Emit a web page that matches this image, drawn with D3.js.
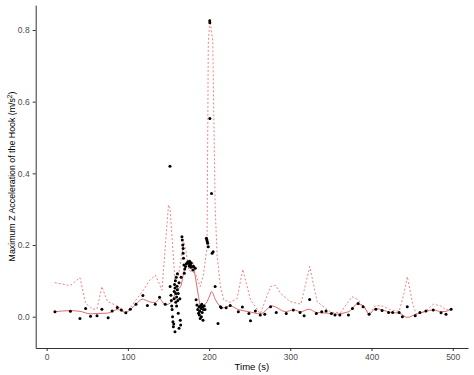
<!DOCTYPE html>
<html>
<head>
<meta charset="utf-8">
<script src="https://cdn.jsdelivr.net/npm/d3@7"></script>
<style>
  body { margin: 0; background: #fff; }
  svg { font-family: "Liberation Sans", Arial, sans-serif; display: block; }
  .tick text { fill: #4d4d4d; font-size: 8.5px; }
</style>
</head>
<body>
<svg id="chart" width="474" height="375"></svg>
<script>
// observed points
const pointTime = [10.2, 29.2, 41, 48, 54, 62, 68, 75.7, 80.6, 87, 92, 97.5, 103, 110, 118.5, 124, 133.7, 139, 146, 151.8,
  152, 153, 153.5, 154, 154.5, 155, 155.5, 156, 156.5, 157, 157, 157.5, 158, 158, 158.5, 159, 159, 159.5, 160, 160, 160.5,
  161, 161, 161.5, 162, 162, 163, 163, 164, 164.5, 165, 165.5, 166.6, 167, 167.5, 168, 168, 168.5, 169, 169.5, 170, 171,
  172, 173, 174, 175, 175.5, 176, 177, 177.5, 178, 179, 180, 181, 183, 184, 185, 186, 187, 187.5, 188, 188.5, 189, 189.5,
  190, 190.5, 191, 191.5, 192, 192.5, 193, 194, 195, 196.7, 197.2, 197.7, 198.2, 199, 200.8, 200.9, 201, 203, 205, 203.7,
  207.4, 211, 214, 215, 221, 226, 236, 241, 249, 251, 257, 263, 268.6, 275.7, 282.7, 295, 303.7, 312, 317, 323.8, 332,
  338.7, 344, 350.6, 355, 361, 371.6, 376.5, 383.5, 389.6, 397, 405.3, 413, 421, 426, 434, 438, 444, 453.8, 459.6, 467,
  476, 485.6, 491.7, 498];
const pointValue = [0.014, 0.015, -0.005, 0.023, 0.001, 0.003, 0.021, -0.003, 0.016, 0.026, 0.019, 0.011, 0.021, 0.035, 0.059, 0.031, 0.035, 0.054, 0.035, 0.42,
  0.084, 0.06, 0.045, 0.03, 0.02, 0.0, -0.014, -0.028, -0.02, 0.07, 0.05, 0.09, -0.042, 0.08, 0.1, 0.065, 0.04, 0.11, 0.055, 0.03, 0.085,
  0.12, 0.075, 0.045, 0.065, 0.01, 0.095, -0.032, 0.05, -0.01, -0.023, 0.11, 0.223, 0.214, 0.2, 0.19, 0.177, 0.163, 0.144, 0.121, 0.133, 0.14,
  0.148, 0.15, 0.153, 0.149, 0.142, 0.155, 0.145, 0.138, 0.15, 0.14, 0.13, 0.14, 0.135, 0.047, 0.033, 0.02, 0.01, 0.028, 0.005, 0.015, -0.005, 0.03,
  0.023, 0.0, 0.035, 0.012, 0.028, -0.01, 0.02, 0.03, 0.02, 0.219, 0.215, 0.21, 0.205, 0.195, 0.826, 0.82, 0.553, 0.344, 0.181, 0.177,
  0.084, -0.019, 0.028, 0.025, 0.025, 0.031, 0.014, 0.027, 0.009, -0.011, 0.016, 0.005, 0.007, 0.028, 0.012, 0.009, 0.019, 0.012, 0.003, 0.048, 0.009,
  0.014, 0.016, 0.009, 0.005, 0.005, 0.005, 0.023, 0.037, 0.028, 0.007, 0.021, 0.017, 0.012, 0.012, 0.012, 0.0, 0.028, 0.003, 0.012, 0.016,
  0.019, 0.011, 0.007, 0.021];

// mean line (solid)
const meanTime = [10, 29, 41, 54, 62, 75, 87, 97, 103, 110, 118, 124, 130, 134, 139, 146, 154, 160, 165, 169, 175, 180, 183, 187, 190,
  193, 197.5, 201, 203, 208, 214, 218, 226, 236, 249, 263, 278, 294, 304, 313, 323, 332, 345, 357, 365, 374, 382, 390, 397, 405,
  413, 424, 434, 444, 455, 467, 476, 486, 492, 498];
const meanValue = [0.014, 0.017, 0.015, 0.008, 0.009, 0.01, 0.02, 0.012, 0.02, 0.035, 0.049, 0.044, 0.04, 0.04, 0.05, 0.033, 0.042, 0.074, 0.084, 0.126, 0.153, 0.15, 0.112, 0.056, 0.023,
  0.03, 0.042, 0.06, 0.07, 0.047, 0.028, 0.025, 0.03, 0.02, 0.014, 0.008, 0.03, 0.014, 0.019, 0.014, 0.021, 0.012, 0.01, 0.007, 0.01, 0.017, 0.035, 0.03, 0.007, 0.023,
  0.019, 0.012, 0.01, -0.002, 0.007, 0.015, 0.019, 0.014, 0.015, 0.021];

// upper line (dashed)
const upperTime = [10, 29, 41, 48, 57, 62, 68, 75, 87, 97, 103, 119, 127, 134, 142, 150, 152, 156, 158, 162, 166, 169, 171, 175, 183,
  189, 193, 197.5, 199, 201, 204.5, 207.5, 210, 214, 218, 226, 234.6, 241.5, 251, 263, 275.7, 282, 288, 300, 313, 324, 333, 350, 362, 376, 383, 390,
  397, 405, 413, 424, 434, 440, 444, 450.6, 455, 467, 476, 485, 492, 498];
const upperValue = [0.095, 0.087, 0.109, 0.037, 0.021, 0.022, 0.084, 0.042, 0.03, 0.011, 0.025, 0.074, 0.102, 0.116, 0.074, 0.312, 0.3, 0.167, 0.102, 0.11, 0.167, 0.209, 0.19, 0.13, 0.121,
  0.084, 0.116, 0.195, 0.76, 0.83, 0.77, 0.3, 0.167, 0.084, 0.047, 0.04, 0.051, 0.132, 0.047, 0.008, 0.084, 0.088, 0.065, 0.042, 0.035, 0.14, 0.042, 0.012, 0.012, 0.056, 0.048, 0.028,
  0.01, 0.031, 0.03, 0.019, 0.015, 0.065, 0.112, 0.037, 0.007, 0.016, 0.035, 0.03, 0.019, 0.022];

const xTicks = [0, 100, 200, 300, 400, 500];
const yTicks = [0.0, 0.2, 0.4, 0.6, 0.8];

const svg = d3.select('#chart');

const plot = { left: 35.7, right: 468, top: 5, bottom: 348 };

const x = d3.scaleLinear().domain([-13.5, 518.8]).range([plot.left, plot.right]);
const y = d3.scaleLinear().domain([-0.0873, 0.8697]).range([plot.bottom, plot.top]);

// lines
const line = (ts, vs, curve) => d3.line()
  .x((d, i) => x(ts[i]))
  .y(d => y(d))
  .curve(curve)(vs);

svg.append('path')
  .attr('d', line(upperTime, upperValue, d3.curveLinear))
  .attr('fill', 'none')
  .attr('stroke', '#ec7676')
  .attr('stroke-width', 0.9)
  .attr('stroke-dasharray', '2,2');

svg.append('path')
  .attr('d', line(meanTime, meanValue, d3.curveMonotoneX))
  .attr('fill', 'none')
  .attr('stroke', '#d9595b')
  .attr('stroke-width', 0.9);

// points
svg.append('g')
  .selectAll('circle')
  .data(pointValue)
  .enter().append('circle')
  .attr('cx', (d, i) => x(pointTime[i]))
  .attr('cy', d => y(d))
  .attr('r', 1.5)
  .attr('fill', '#000');

// axes
const xAxis = svg.append('g')
  .attr('transform', `translate(0,${plot.bottom})`)
  .call(d3.axisBottom(x).tickValues(xTicks).tickSize(3).tickPadding(3).tickSizeOuter(0));
const yAxis = svg.append('g')
  .attr('transform', `translate(${plot.left},0)`)
  .call(d3.axisLeft(y).tickValues(yTicks).tickFormat(d3.format('.1f')).tickSize(3).tickPadding(3).tickSizeOuter(0));

[xAxis, yAxis].forEach(a => {
  a.select('.domain').attr('stroke', '#333').attr('stroke-width', 1);
  a.selectAll('.tick line').attr('stroke', '#333');
});

// axis titles
svg.append('text')
  .attr('x', (plot.left + plot.right) / 2)
  .attr('y', 370)
  .attr('text-anchor', 'middle')
  .attr('font-size', 9.5)
  .attr('fill', '#000')
  .text('Time (s)');

const ylab = svg.append('text')
  .attr('transform', `translate(15,${(plot.top + plot.bottom) / 2}) rotate(-90)`)
  .attr('text-anchor', 'middle')
  .attr('font-size', 8.8)
  .attr('fill', '#000');
ylab.append('tspan').text('Maximum Z Acceleration of the Hook (m/s');
ylab.append('tspan').attr('dy', -3.5).attr('font-size', 6.5).text('2');
ylab.append('tspan').attr('dy', 3.5).text(')');
</script>
</body>
</html>
